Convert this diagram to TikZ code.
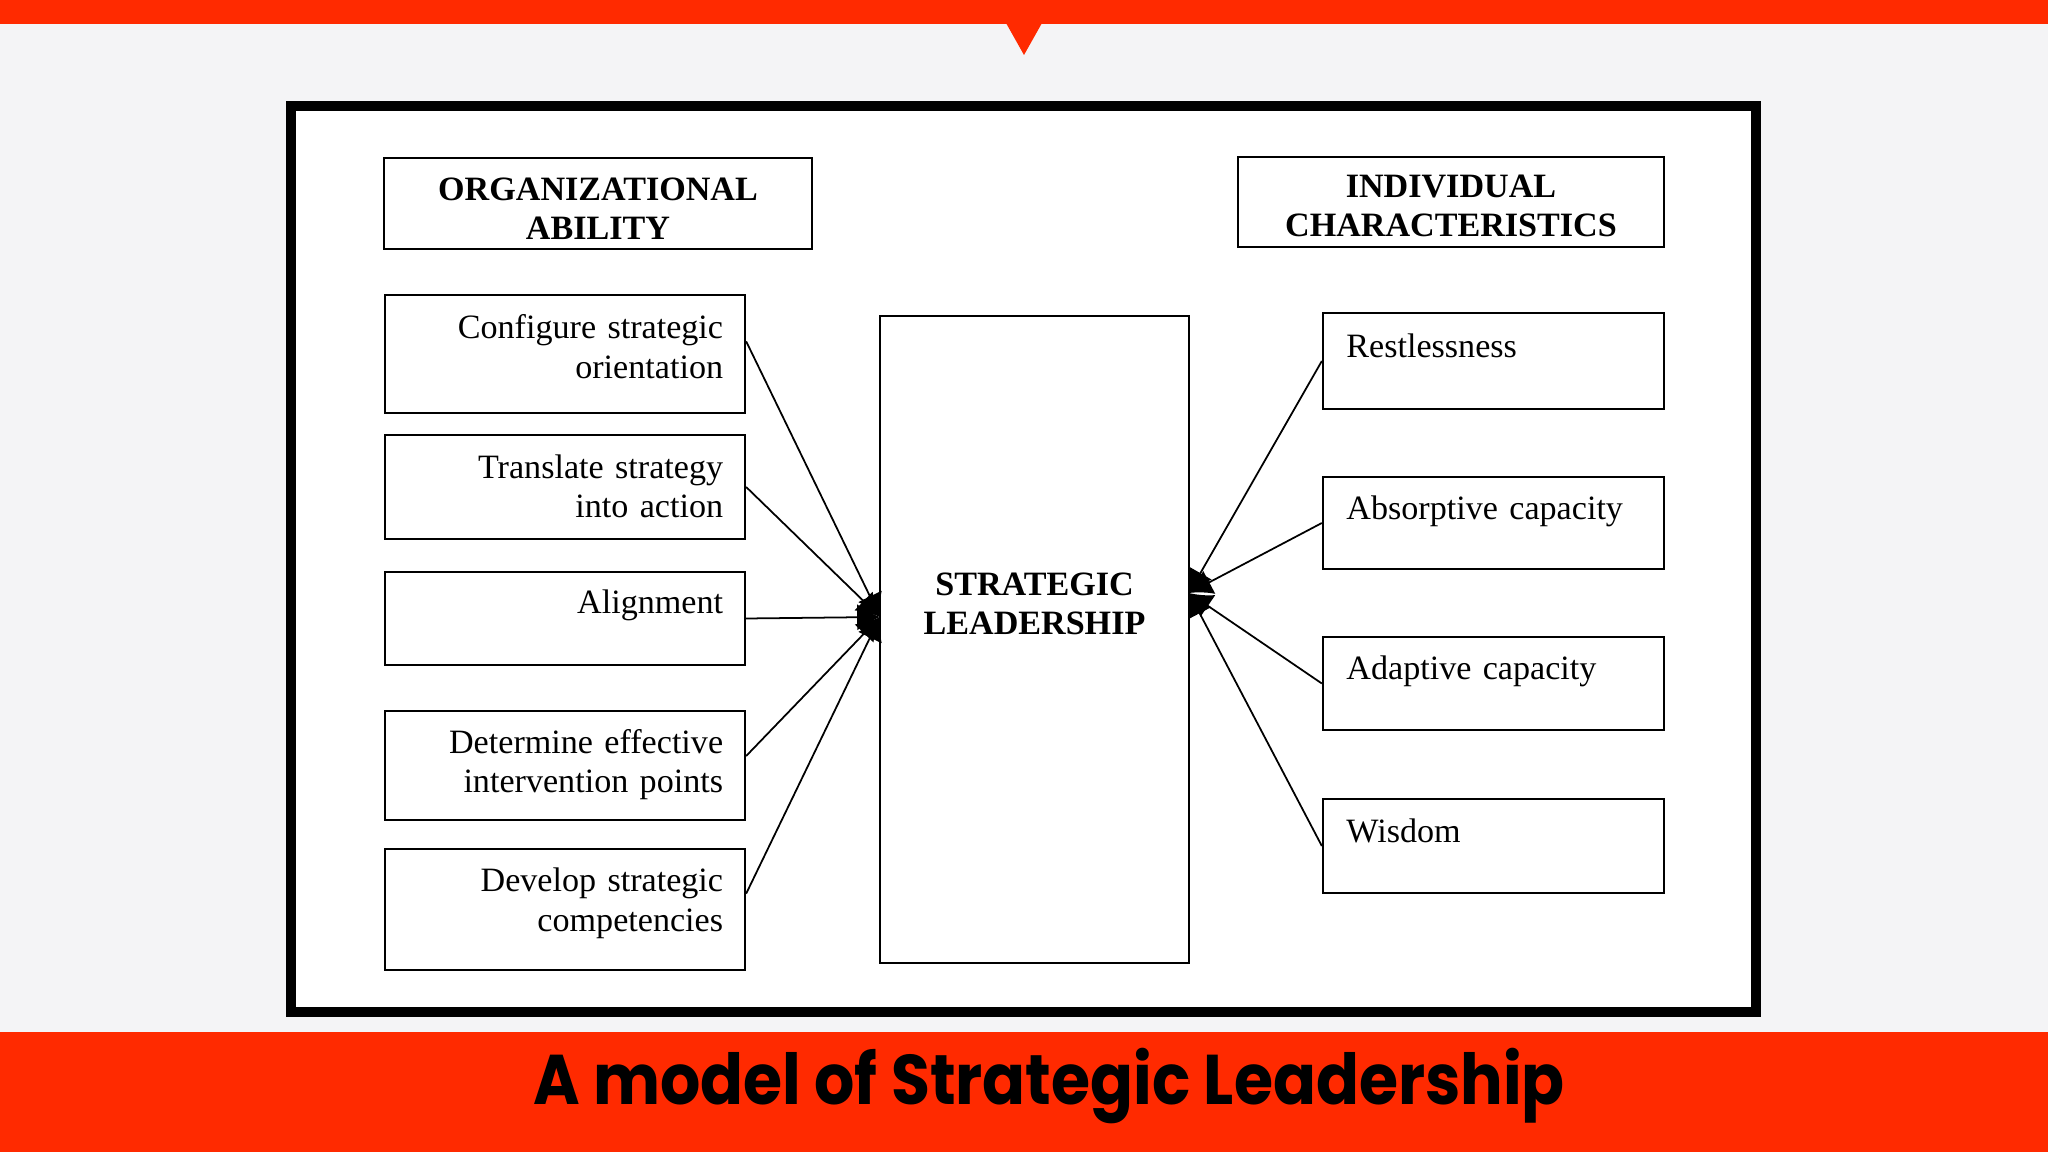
\documentclass[tikz,border=0pt]{standalone}
\usepackage{fontspec}
\usepackage{graphicx}
\setmainfont{Liberation Serif}
\newfontfamily\titlefont{Poppins}
\usetikzlibrary{arrows.meta}

\definecolor{slidered}{RGB}{255,42,0}
\definecolor{slidebg}{RGB}{244,244,246}

\begin{document}
\begin{tikzpicture}[x=0.01cm, y=-0.01cm, >={Latex[length=6.5pt, width=7.5pt]},
    box/.style={draw, line width=0.6pt, inner ysep=0pt, font=\fontsize{9.7}{11.2}\selectfont},
    head/.style={box, font=\fontsize{9.7}{11.2}\selectfont\bfseries, align=center},
    link/.style={->, line width=0.5pt}]
  \useasboundingbox (0,0) rectangle (2048,1152);
  \fill[slidebg] (0,0) rectangle (2048,1152);

  \fill[slidered] (0,0) rectangle (2048,24);
  \fill[slidered] (1006,23) -- (1042,23) -- (1024,55) -- cycle;
  \fill[slidered] (0,1032) rectangle (2048,1152);
  \node[anchor=base, font=\titlefont\bfseries\fontsize{20}{24}\selectfont] (title) at (1049,1104)
    {\scalebox{0.9}[1]{A model of Strategic Leadership}};

  \filldraw[fill=white, draw=black, line width=0.1cm] (291,106) rectangle (1756,1012);

  \node[head, minimum width=4.28cm, minimum height=0.91cm, text height=0.72cm, text depth=0cm] (org)
    at (598,203.5) {ORGANIZATIONAL\\ABILITY};
  \node[head, minimum width=4.26cm, minimum height=0.90cm, text height=0.69cm, text depth=0cm] (ind)
    at (1451,202) {INDIVIDUAL\\CHARACTERISTICS};

  \node[head, minimum width=3.09cm, minimum height=6.47cm, text depth=0.72cm] (sl) at (1034.5,639.5)
    {STRATEGIC\\LEADERSHIP};

  \foreach \nm/\yt/\yb/\dd/\txt in {b1/295/413/0.54/{Configure strategic\\orientation},
      b2/435/539/0.41/{Translate strategy\\into action}, b3/572/665/0.33/{Alignment},
      b4/711/820/0.48/{Determine effective\\intervention points},
      b5/849/970/0.59/{Develop strategic\\competencies}} {
    \pgfmathsetmacro{\ymid}{(\yt+\yb)/2}
    \pgfmathsetmacro{\hgt}{(\yb-\yt)/100}
    \node[box, align=right, text width=3.16cm, inner xsep=0.22cm, minimum height=\hgt cm,
      text depth=\dd cm] (\nm) at (565,\ymid) {\txt};
  }

  \foreach \nm/\yt/\yb/\txt in {r1/313/409/{Restlessness}, r2/477/569/{Absorptive capacity},
      r3/637/730/{Adaptive capacity}, r4/799/893/{Wisdom}} {
    \pgfmathsetmacro{\ymid}{(\yt+\yb)/2}
    \pgfmathsetmacro{\hgt}{(\yb-\yt)/100}
    \node[box, align=left, text width=2.94cm, inner xsep=0.235cm, minimum height=\hgt cm,
      text depth=0.31cm] (\nm) at (1493.5,\ymid) {\txt};
  }

  \coordinate (hubL) at (880,617);
  \coordinate (hubR) at (1189,593);

  \foreach \src in {b1.4, b2.east, b3.east, b4.3, b5.5}
    \draw[link] (\src) -- (hubL);
  \foreach \src in {r1, r2, r3, r4}
    \draw[link] (\src.west) -- (hubR);
\end{tikzpicture}
\end{document}
